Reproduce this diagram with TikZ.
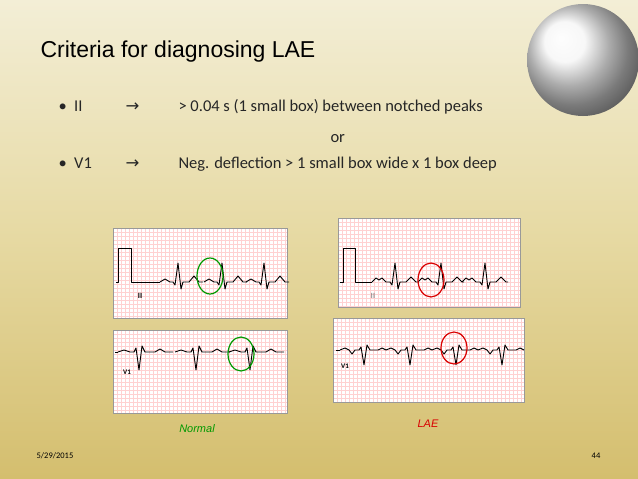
\documentclass[tikz,border=0pt]{standalone}
\usepackage{fontspec}
\setmainfont{Carlito}
\newfontfamily\arial{Liberation Sans}
\newfontfamily\djv{DejaVu Sans}
\definecolor{bgtop}{HTML}{F3EED6}
\definecolor{bgmid}{HTML}{E6D9A2}
\definecolor{bgbot}{HTML}{D4BE6E}
\begin{document}
\begin{tikzpicture}[x=1pt,y=-1pt,
  trace/.style={black,line width=0.9pt,line join=round},
  gcirc/.style={draw=green!60!black,line width=1.2pt},
  rcirc/.style={draw=red!85!black,line width=1.2pt},
  bul/.style={anchor=base west,font=\fontsize{16.5}{20}\selectfont,text=black!85}]
\shade[top color=bgtop, bottom color=bgbot, middle color=bgmid] (0,0) rectangle (638,479);
\useasboundingbox (0,0) rectangle (638,479);
\shade[ball color=black!4,shading=ball] (583,60) circle (56);
\node[anchor=base west,font=\arial\fontsize{23}{26}\selectfont] (title) at (37,57) {Criteria for diagnosing LAE};
\node[bul] (b1) at (55,111) {\textbullet\ \ II};
\node[bul] (a1) at (122,111) {\djv →};
\node[bul] (t1) at (175,111) {> 0.04 s (1 small box) between notched peaks};
\node[bul] (or) at (327,142) {or};
\node[bul] (b2) at (55,168) {\textbullet\ \ V1};
\node[bul] (a2) at (122,168) {\djv →};
\node[bul] (t2) at (175,168) {Neg. deflection > 1 small box wide x 1 box deep};
% ECG boxes
\foreach \xa/\ya/\xb/\yb in {113/228/287/318,113/330/287/413,338/218/520/307,333/318/524/402}{
  \fill[white] (\xa,\ya) rectangle (\xb,\yb);
  \pgfmathsetmacro{\nx}{int((\xb-\xa)/4)}
  \pgfmathsetmacro{\ny}{int((\yb-\ya)/4)}
  \foreach \i in {1,...,\nx}{\draw[red!18,line width=0.3pt] (\xa+4*\i,\ya) -- (\xa+4*\i,\yb);}
  \foreach \i in {1,...,\ny}{\draw[red!18,line width=0.3pt] (\xa,\ya+4*\i) -- (\xb,\ya+4*\i);}
  \draw[black!40] (\xa,\ya) rectangle (\xb,\yb);
}
% traces top-left (lead II)
\draw[trace] (116,282) -- (118,282) -- (118,248) -- (131,248) -- (131,282) -- (160,282);
\foreach \x in {160,204,246}{
 \draw[trace] (\x,282) -- ++(5,-3) -- ++(5,3) -- ++(3,0) -- ++(2,3) -- ++(3,-22) -- ++(3,26) -- ++(2,-7) -- ++(6,0) -- ++(5,-6) -- ++(5,6) -- ++(4,0);
}
\node[font=\bfseries\fontsize{8}{9}\selectfont] (l1) at (140,296) {II};
% bottom-left (V1)
\draw[trace] (115,352) -- (118,352);
\foreach \x in {118,175,229}{
 \draw[trace] (\x,352) -- ++(6,-2) -- ++(6,2) -- ++(4,0) -- ++(2,-4) -- ++(3,22) -- ++(3,-24) -- ++(3,6) -- ++(10,0) -- ++(5,-3) -- ++(5,3) -- ++(8,0);
}
\node[font=\bfseries\fontsize{7}{8}\selectfont] (l2) at (127,372) {V1};
% top-right (lead II LAE)
\draw[trace] (340,282) -- (343,282) -- (343,248) -- (355,248) -- (355,282) -- (372,282);
\foreach \x in {372,418,462}{
 \draw[trace] (\x,282) -- ++(4,-4) -- ++(3,2) -- ++(3,-2) -- ++(4,4) -- ++(4,0) -- ++(2,3) -- ++(3,-22) -- ++(3,26) -- ++(2,-7) -- ++(6,0) -- ++(5,-5) -- ++(5,5) -- ++(2,0);
}
\node[font=\fontsize{8}{9}\selectfont,text=black!60] (l3) at (373,296) {II};
% bottom-right (V1 LAE)
\draw[trace] (336,350) -- (340,350);
\foreach \x in {340,386,432,478}{
 \draw[trace] (\x,350) -- ++(5,-2) -- ++(4,2) -- ++(3,4) -- ++(3,-4) -- ++(4,0) -- ++(2,-3) -- ++(3,18) -- ++(3,-20) -- ++(3,5) -- ++(8,0) -- ++(4,-2) -- ++(4,2) -- ++(0,0);
}
\node[font=\bfseries\fontsize{7}{8}\selectfont] (l4) at (345,366) {V1};
% circles
\draw[gcirc] (210,276) ellipse (13 and 18);
\draw[gcirc] (241,354) ellipse (13 and 17);
\draw[rcirc] (431,280) ellipse (13 and 17);
\draw[rcirc] (454,348) ellipse (13 and 16);
\node[font=\arial\itshape\fontsize{11}{13}\selectfont,text=green!60!black] (nl) at (197,429) {Normal};
\node[font=\arial\itshape\fontsize{11}{13}\selectfont,text=red!85!black] (ll) at (428,424) {LAE};
\node[font=\fontsize{8.5}{10}\selectfont] (date) at (55,456) {5/29/2015};
\node[font=\fontsize{8.5}{10}\selectfont] (pg) at (596,456) {44};
\end{tikzpicture}
\end{document}
